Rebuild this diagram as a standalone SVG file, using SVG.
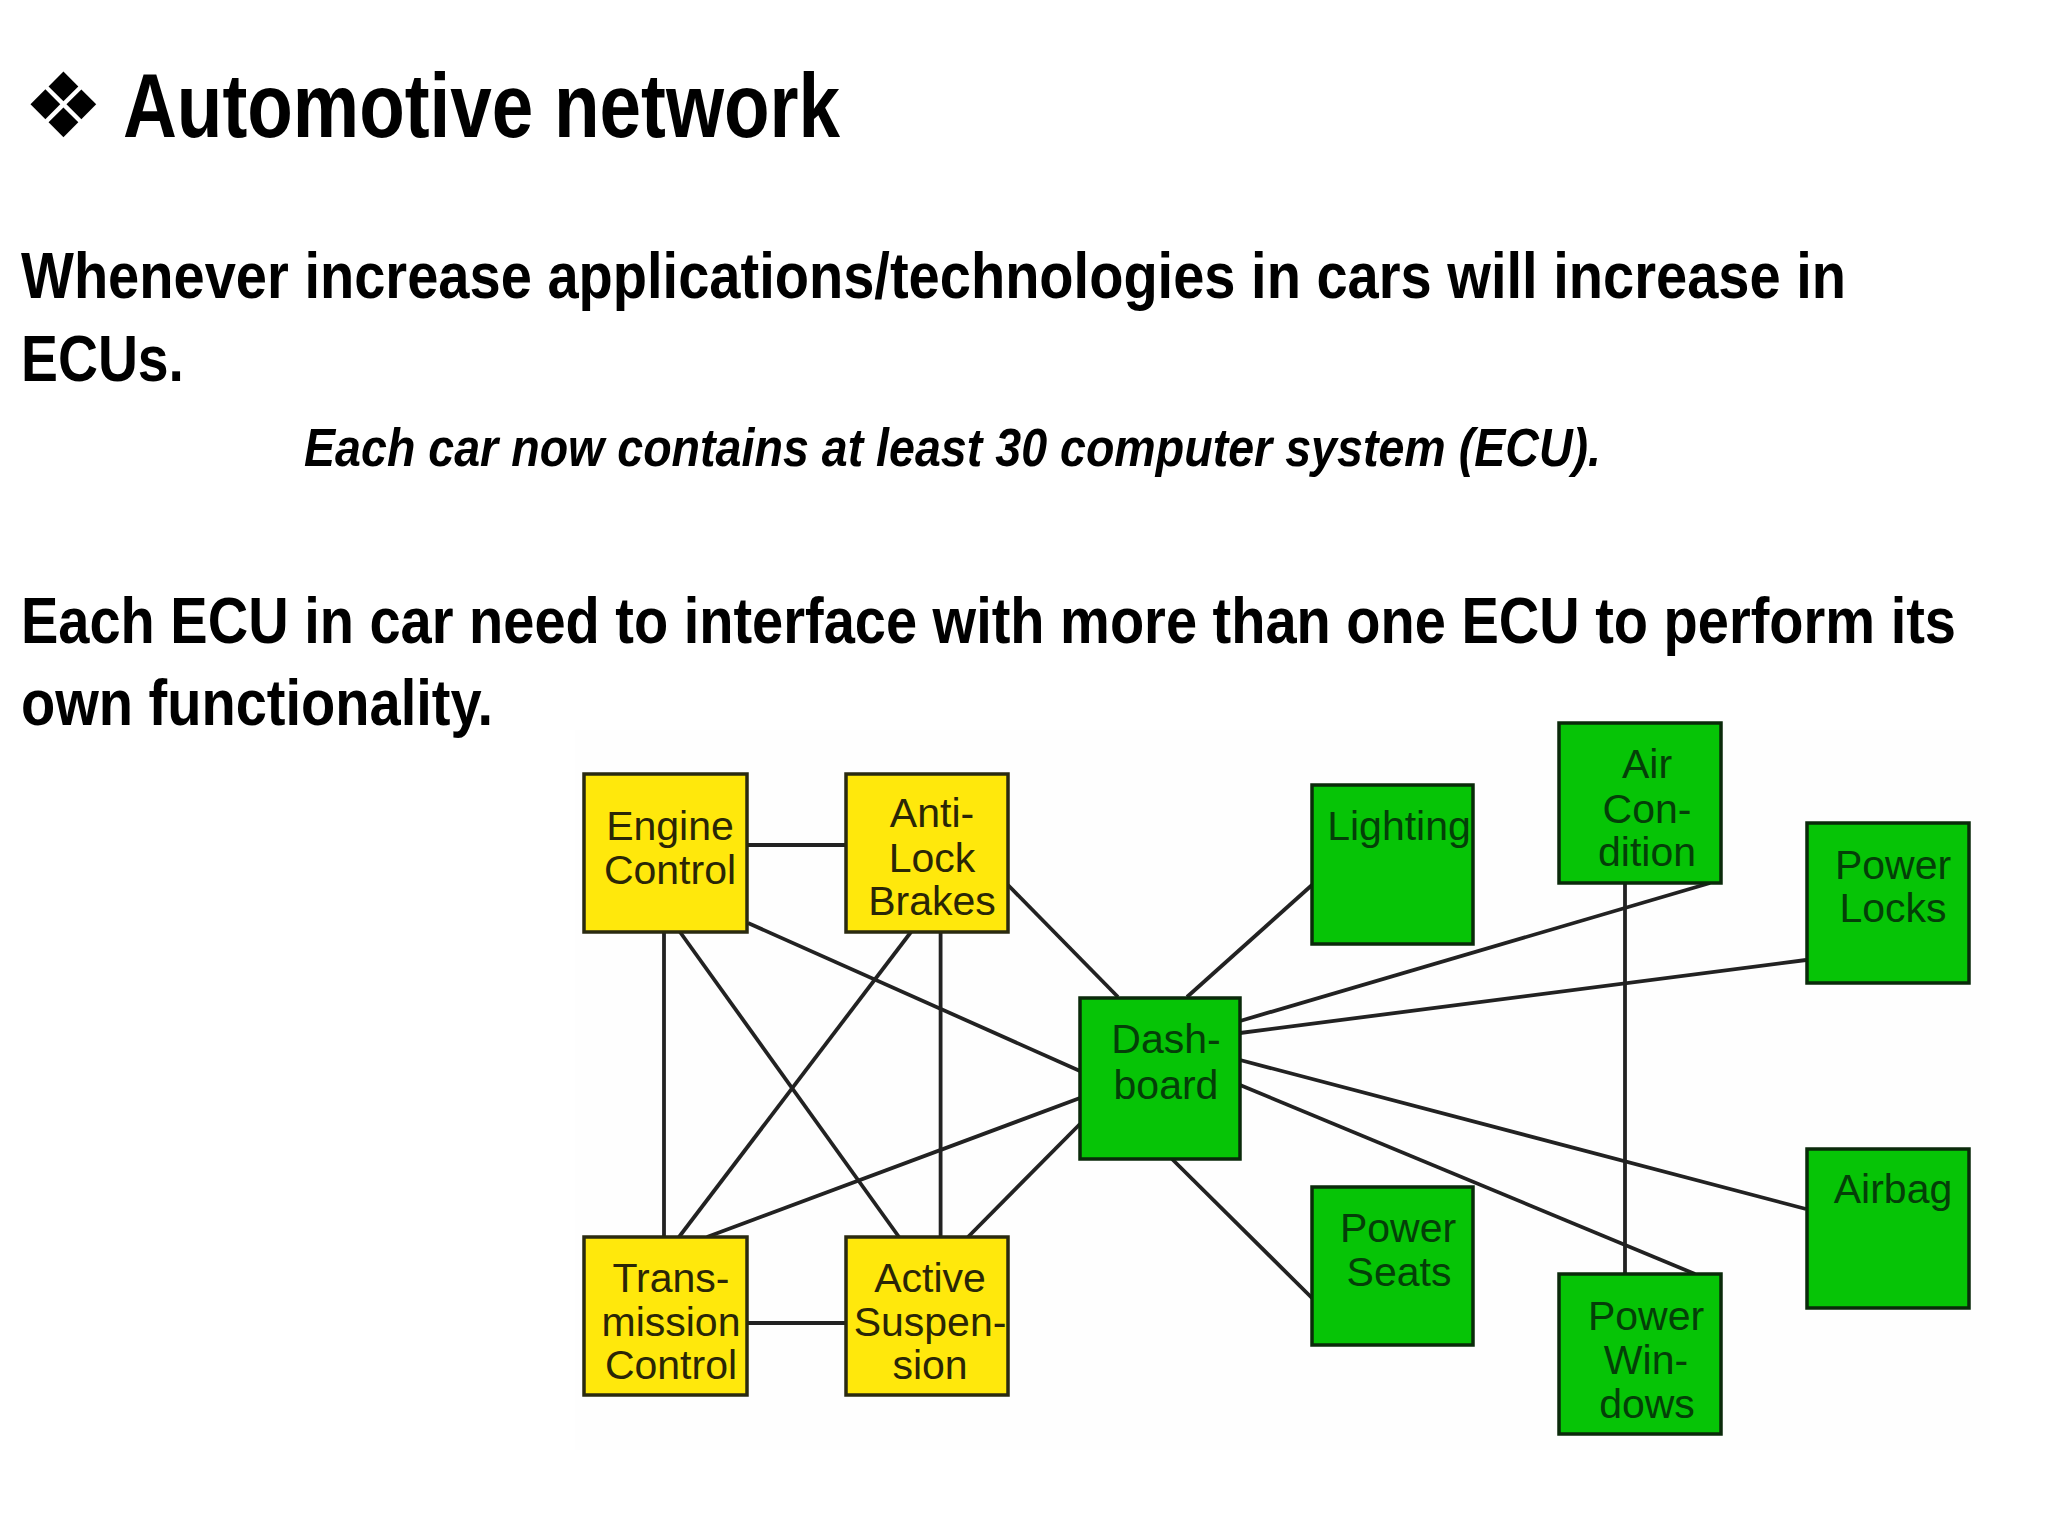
<svg xmlns="http://www.w3.org/2000/svg" width="2048" height="1536" viewBox="0 0 2048 1536">
<style>
.h{font-family:"Liberation Sans",Arial,sans-serif;font-weight:700;fill:#000}
.b{font-size:65px}
.n{font-family:"Liberation Sans",Arial,sans-serif;font-size:41px;text-anchor:middle}
.y rect{fill:#ffe80c;stroke:#2a2a10;stroke-width:3.5}
.g rect{fill:#06c406;stroke:#0a2a0a;stroke-width:3.5}
.y text{fill:#2a2606}
.g text{fill:#043f08}
#connectors line{stroke:#222;stroke-width:3.8;fill:none}
</style>
<rect width="2048" height="1536" fill="#fff"/>
<rect x="575" y="730" width="1415" height="720" fill="#fefefe"/>
<g id="heading">
<text x="23" y="137" font-family="DejaVu Sans, sans-serif" font-size="90" fill="#000">❖</text>
<text class="h" x="123" y="137" font-size="90" textLength="717" lengthAdjust="spacingAndGlyphs">Automotive network</text>
<text class="h b" x="21" y="298" textLength="1825" lengthAdjust="spacingAndGlyphs">Whenever increase applications/technologies in cars will increase in</text>
<text class="h b" x="21" y="381" textLength="163" lengthAdjust="spacingAndGlyphs">ECUs.</text>
<text class="h" x="304" y="466" font-size="54" font-style="italic" textLength="1297" lengthAdjust="spacingAndGlyphs">Each car now contains at least 30 computer system (ECU).</text>
<text class="h b" x="21" y="643" textLength="1935" lengthAdjust="spacingAndGlyphs">Each ECU in car need to interface with more than one ECU to perform its</text>
<text class="h b" x="21" y="725" textLength="472" lengthAdjust="spacingAndGlyphs">own functionality.</text>
</g>
<g id="connectors">
<line x1="747" y1="845" x2="846" y2="845"/>
<line x1="748" y1="923" x2="1080" y2="1071"/>
<line x1="664" y1="932" x2="664" y2="1237"/>
<line x1="680" y1="932" x2="899" y2="1237"/>
<line x1="911" y1="932" x2="679" y2="1237"/>
<line x1="940.6" y1="932" x2="940.6" y2="1237"/>
<line x1="1008" y1="885" x2="1118" y2="997"/>
<line x1="707" y1="1237" x2="1080" y2="1098"/>
<line x1="968" y1="1237" x2="1080" y2="1124"/>
<line x1="747" y1="1323" x2="846" y2="1323"/>
<line x1="1187" y1="997" x2="1312" y2="885"/>
<line x1="1240" y1="1021" x2="1710" y2="883"/>
<line x1="1240" y1="1033" x2="1806" y2="960"/>
<line x1="1240" y1="1060" x2="1806" y2="1209"/>
<line x1="1240" y1="1085" x2="1695" y2="1274"/>
<line x1="1172" y1="1159" x2="1312" y2="1298"/>
<line x1="1625" y1="883" x2="1625" y2="1274"/>
</g>
<g id="engine-control" class="y"><rect x="584" y="774" width="163" height="158"/><text class="n" x="670" y="840">Engine</text><text class="n" x="670" y="884">Control</text></g>
<g id="anti-lock-brakes" class="y"><rect x="846" y="774" width="162" height="158"/><text class="n" x="932" y="826.5">Anti-</text><text class="n" x="932" y="871.5">Lock</text><text class="n" x="932" y="914.5">Brakes</text></g>
<g id="transmission-control" class="y"><rect x="584" y="1237" width="163" height="158"/><text class="n" x="671" y="1292">Trans-</text><text class="n" x="671" y="1336">mission</text><text class="n" x="671" y="1379">Control</text></g>
<g id="active-suspension" class="y"><rect x="846" y="1237" width="162" height="158"/><text class="n" x="930" y="1292">Active</text><text class="n" x="930" y="1336">Suspen-</text><text class="n" x="930" y="1379">sion</text></g>
<g id="dashboard" class="g"><rect x="1080" y="998" width="160" height="161"/><text class="n" x="1166" y="1052.5">Dash-</text><text class="n" x="1166" y="1098.5">board</text></g>
<g id="lighting" class="g"><rect x="1312" y="785" width="161" height="159"/><text class="n" x="1399" y="840">Lighting</text></g>
<g id="air-condition" class="g"><rect x="1559" y="723" width="162" height="160"/><text class="n" x="1647" y="777.5">Air</text><text class="n" x="1647" y="822.5">Con-</text><text class="n" x="1647" y="866">dition</text></g>
<g id="power-locks" class="g"><rect x="1807" y="823" width="162" height="160"/><text class="n" x="1893" y="878.5">Power</text><text class="n" x="1893" y="921.5">Locks</text></g>
<g id="airbag" class="g"><rect x="1807" y="1149" width="162" height="159"/><text class="n" x="1893" y="1203">Airbag</text></g>
<g id="power-seats" class="g"><rect x="1312" y="1187" width="161" height="158"/><text class="n" x="1398" y="1241.5">Power</text><text class="n" x="1399" y="1286">Seats</text></g>
<g id="power-windows" class="g"><rect x="1559" y="1274" width="162" height="160"/><text class="n" x="1646" y="1329.5">Power</text><text class="n" x="1646" y="1373.5">Win-</text><text class="n" x="1647" y="1417.5">dows</text></g>
</svg>
